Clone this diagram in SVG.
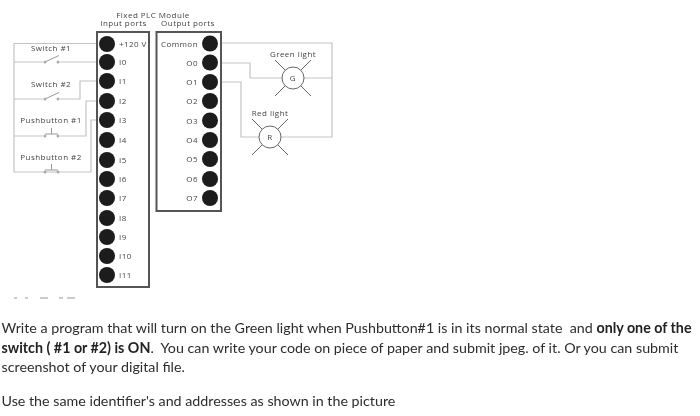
<svg xmlns="http://www.w3.org/2000/svg" width="700" height="416" viewBox="0 0 700 416">
<defs><filter id="soft" x="0" y="0" width="100%" height="100%"><feGaussianBlur stdDeviation="0.4"/></filter></defs>
<style>
text{font-family:"Open Sans","Noto Sans",sans-serif;font-size:8px;letter-spacing:.45px;fill:#444}
.p{font-family:Lato,"Noto Sans",sans-serif;font-size:14.280px;letter-spacing:0;fill:#2d2d2d;white-space:pre}
.p tspan.b{font-weight:700;fill:#222}
.box{fill:none;stroke:#555;stroke-width:2}
.pin{fill:#1c1c1c}
.w{fill:none;stroke:#c4c4c4;stroke-width:1.200}
.ray{stroke:#666;stroke-width:1}
.lamp{fill:#fff;stroke:#666;stroke-width:1}
.sw{fill:none;stroke:#999;stroke-width:1}
.t{fill:#aaa}
.m{text-anchor:middle}
.e{text-anchor:end}
</style>
<rect width="700" height="416" fill="#fff"/>
<g filter="url(#soft)">
<g id="connectors">
<path class="w" d="M97 43.500H14V172H91V120H97"/>
<path class="w" d="M14 62H43M60 62H97"/>
<path class="w" d="M14 99H43M60 99H80V81H97"/>
<path class="w" d="M14 136H43M60 136H86V101H97"/>
<path class="w" d="M222 43H332V137H281"/>
<path class="w" d="M222 63H250V78H282M304 78H332"/>
<path class="w" d="M222 82H241V137H259"/>
</g>
<g id="module-title">
<text class="m" x="153" y="17.500">Fixed PLC Module</text>
<text class="m" x="123.500" y="26">Input ports</text>
<text class="m" x="188" y="26">Output ports</text>
</g>
<g id="input-ports">
<rect class="box" x="97" y="32" width="52" height="255"/>
<g class="pin">
<circle cx="107" cy="44" r="8"/><circle cx="107" cy="62" r="8"/><circle cx="107" cy="81" r="8"/><circle cx="107" cy="101" r="8"/><circle cx="107" cy="120" r="8"/><circle cx="107" cy="140" r="8"/><circle cx="107" cy="160" r="8"/><circle cx="107" cy="179" r="8"/><circle cx="107" cy="198" r="8"/><circle cx="107" cy="218" r="8"/><circle cx="107" cy="237" r="8"/><circle cx="107" cy="256" r="8"/><circle cx="107" cy="275" r="8"/>
</g>
<text x="119" y="47">+120 V</text><text x="119" y="65">I0</text><text x="119" y="84">I1</text><text x="119" y="104">I2</text><text x="119" y="123">I3</text><text x="119" y="143">I4</text><text x="119" y="163">I5</text><text x="119" y="182">I6</text><text x="119" y="201">I7</text><text x="119" y="221">I8</text><text x="119" y="240">I9</text><text x="119" y="259">I10</text><text x="119" y="278">I11</text>
</g>
<g id="output-ports">
<rect class="box" x="156.500" y="32" width="64.500" height="179"/>
<g class="pin">
<circle cx="210" cy="43.500" r="8"/><circle cx="210" cy="62.500" r="8"/><circle cx="210" cy="82" r="8"/><circle cx="210" cy="101" r="8"/><circle cx="210" cy="120.500" r="8"/><circle cx="210" cy="140" r="8"/><circle cx="210" cy="159" r="8"/><circle cx="210" cy="179" r="8"/><circle cx="210" cy="198" r="8"/>
</g>
<text class="e" x="198" y="47">Common</text><text class="e" x="198" y="66">O0</text><text class="e" x="198" y="85">O1</text><text class="e" x="198" y="104">O2</text><text class="e" x="198" y="124">O3</text><text class="e" x="198" y="143">O4</text><text class="e" x="198" y="162">O5</text><text class="e" x="198" y="182">O6</text><text class="e" x="198" y="201">O7</text>
</g>
<g id="switch-1">
<text class="m" x="51" y="51">Switch #1</text>
<path class="sw" d="M45 62L59 55.500"/><circle class="t" cx="45" cy="62" r="1.500"/><circle class="t" cx="58" cy="62" r="1.500"/>
</g>
<g id="switch-2">
<text class="m" x="51" y="87">Switch #2</text>
<path class="sw" d="M45 99L59 92.500"/><circle class="t" cx="45" cy="99" r="1.500"/><circle class="t" cx="58" cy="99" r="1.500"/>
</g>
<g id="pushbutton-1">
<text class="m" x="51" y="123">Pushbutton #1</text>
<path class="sw" d="M45 134H58M51.500 134V128"/><circle class="t" cx="45" cy="136" r="1.500"/><circle class="t" cx="58" cy="136" r="1.500"/>
</g>
<g id="pushbutton-2">
<text class="m" x="51" y="160">Pushbutton #2</text>
<path class="sw" d="M45 170H58M51.500 170V164"/><circle class="t" cx="45" cy="172" r="1.500"/><circle class="t" cx="58" cy="172" r="1.500"/>
</g>
<g id="green-light">
<text class="m" x="293" y="57">Green light</text>
<path class="ray" d="M275 60L311 96M311 60L275 96"/>
<circle class="lamp" cx="293" cy="78" r="11"/>
<text class="m" x="293" y="81">G</text>
</g>
<g id="red-light">
<text class="m" x="270" y="116">Red light</text>
<path class="ray" d="M252 119L288 155M288 119L252 155"/>
<circle class="lamp" cx="270" cy="137" r="11"/>
<text class="m" x="270" y="140">R</text>
</g>
<g id="faint-marks">
<path d="M14 298H17M25 298H28M40 298H48M59 298H63M67 298H75" stroke="#bbb" stroke-width="1.500" fill="none"/>
</g>
<g id="question">
<text class="p" x="1.500" y="333">Write a program that will turn on the Green light when Pushbutton#1 is in its normal state  and <tspan class="b">only one of the</tspan></text>
<text class="p" x="1.500" y="353"><tspan class="b">switch ( #1 or #2) is ON</tspan>.  You can write your code on piece of paper and submit jpeg. of it. Or you can submit</text>
<text class="p" x="1.500" y="372">screenshot of your digital file.</text>
<text class="p" x="1.500" y="406">Use the same identifier's and addresses as shown in the picture</text>
</g>
</g>
</svg>
